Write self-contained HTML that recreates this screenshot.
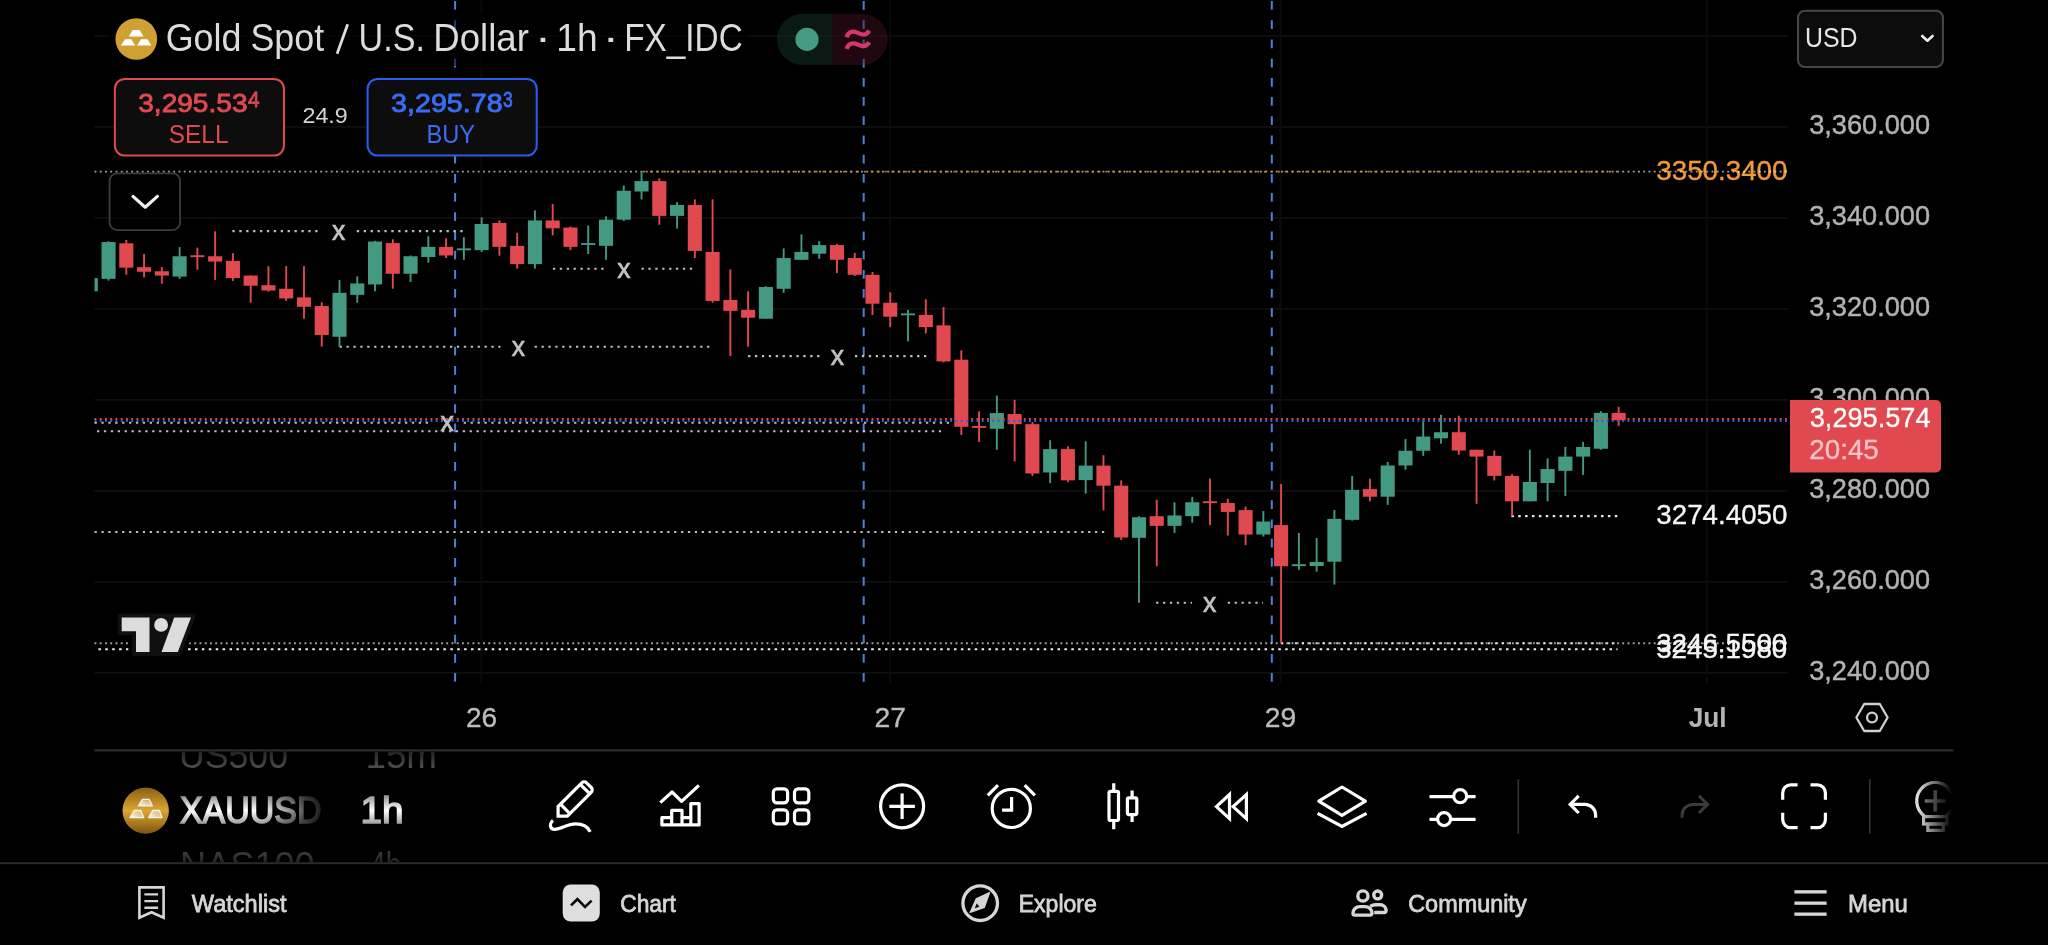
<!DOCTYPE html>
<html lang="en"><head><meta charset="utf-8"><title>Gold Spot / U.S. Dollar chart</title>
<style>html,body{margin:0;padding:0;background:#000;}body{width:2048px;height:945px;overflow:hidden;position:relative;}svg{position:absolute;left:0;top:0;display:block;will-change:transform;}text{font-family:"Liberation Sans",sans-serif;}</style></head>
<body>
<svg width="2048" height="945" viewBox="0 0 2048 945">
<defs>
<linearGradient id="gold2" x1="0" y1="0" x2="0" y2="1"><stop offset="0" stop-color="#8a5e12"/><stop offset="0.5" stop-color="#dba733"/><stop offset="1" stop-color="#7c530f"/></linearGradient>
<linearGradient id="txtg" gradientUnits="userSpaceOnUse" x1="0" y1="795" x2="0" y2="826"><stop offset="0" stop-color="#8e8e8e"/><stop offset="0.5" stop-color="#ffffff"/><stop offset="1" stop-color="#8e8e8e"/></linearGradient>
<linearGradient id="fadeR" gradientUnits="userSpaceOnUse" x1="262" y1="0" x2="322" y2="0"><stop offset="0" stop-color="#fff"/><stop offset="1" stop-color="#1a1a1a"/></linearGradient>
<mask id="mX" maskUnits="userSpaceOnUse" x="170" y="780" width="170" height="60"><rect x="170" y="780" width="170" height="60" fill="url(#fadeR)"/></mask>
<linearGradient id="fadeB" gradientUnits="userSpaceOnUse" x1="1918" y1="0" x2="1952" y2="0"><stop offset="0" stop-color="#fff"/><stop offset="1" stop-color="#000"/></linearGradient>
<mask id="mB" maskUnits="userSpaceOnUse" x="1900" y="770" width="70" height="80"><rect x="1900" y="770" width="70" height="80" fill="url(#fadeB)"/></mask>
<linearGradient id="usg" gradientUnits="userSpaceOnUse" x1="0" y1="751" x2="0" y2="770"><stop offset="0" stop-color="#222222"/><stop offset="1" stop-color="#525252"/></linearGradient>
<linearGradient id="nasg" gradientUnits="userSpaceOnUse" x1="0" y1="850" x2="0" y2="863"><stop offset="0" stop-color="#404040"/><stop offset="1" stop-color="#222222"/></linearGradient>
<clipPath id="cpTop"><rect x="94" y="751.5" width="420" height="30"/></clipPath>
<clipPath id="cpBot"><rect x="94" y="840" width="420" height="22.6"/></clipPath>
<linearGradient id="barg" x1="0" y1="1" x2="1" y2="0"><stop offset="0" stop-color="#fff" stop-opacity="0.95"/><stop offset="1" stop-color="#fff" stop-opacity="0.15"/></linearGradient>
</defs>
<g id="grid"><rect x="94.5" y="35.25" width="1693.5" height="1.5" fill="#121212"/><rect x="94.5" y="126.21" width="1693.5" height="1.5" fill="#121212"/><rect x="94.5" y="217.18" width="1693.5" height="1.5" fill="#121212"/><rect x="94.5" y="308.15" width="1693.5" height="1.5" fill="#121212"/><rect x="94.5" y="399.12" width="1693.5" height="1.5" fill="#121212"/><rect x="94.5" y="490.09" width="1693.5" height="1.5" fill="#121212"/><rect x="94.5" y="581.06" width="1693.5" height="1.5" fill="#121212"/><rect x="94.5" y="672.03" width="1693.5" height="1.5" fill="#121212"/><rect x="480.45" y="0" width="1.7" height="683.5" fill="#0c0c0c"/><rect x="889.25" y="0" width="1.7" height="683.5" fill="#0c0c0c"/><rect x="1279.65" y="0" width="1.7" height="683.5" fill="#0c0c0c"/><rect x="1705.90" y="0" width="1.7" height="683.5" fill="#0c0c0c"/></g>
<line x1="455.1" y1="1.1" x2="455.1" y2="682.8" stroke="#4d80da" stroke-width="2" stroke-dasharray="8.75 10.45"/>
<line x1="863.7" y1="1.1" x2="863.7" y2="682.8" stroke="#4d80da" stroke-width="2" stroke-dasharray="8.75 10.45"/>
<line x1="1271.8" y1="1.1" x2="1271.8" y2="682.8" stroke="#4d80da" stroke-width="2" stroke-dasharray="8.75 10.45"/>
<g id="dots"><line x1="94.5" y1="171.6" x2="1658.9" y2="171.6" stroke="#ffffff" stroke-opacity="0.62" stroke-width="1.9" stroke-dasharray="1.9 3.35"/><line x1="643" y1="171.6" x2="1617" y2="171.6" stroke="#f7931a" stroke-opacity="0.82" stroke-width="1.8" stroke-dasharray="2.1 4.8"/><line x1="232.4" y1="231.1" x2="318.5" y2="231.1" stroke="#ffffff" stroke-opacity="0.74" stroke-width="2.05" stroke-dasharray="2.3 4.60"/><line x1="356.8" y1="231.1" x2="464" y2="231.1" stroke="#ffffff" stroke-opacity="0.74" stroke-width="2.05" stroke-dasharray="2.3 4.60"/><line x1="552.9" y1="268.7" x2="604.5" y2="268.7" stroke="#ffffff" stroke-opacity="0.74" stroke-width="2.05" stroke-dasharray="2.3 4.60"/><line x1="641.5" y1="268.7" x2="693.5" y2="268.7" stroke="#ffffff" stroke-opacity="0.74" stroke-width="2.05" stroke-dasharray="2.3 4.60"/><line x1="339.6" y1="346.7" x2="500.5" y2="346.7" stroke="#ffffff" stroke-opacity="0.74" stroke-width="2.05" stroke-dasharray="2.3 4.60"/><line x1="534.6" y1="346.7" x2="710" y2="346.7" stroke="#ffffff" stroke-opacity="0.74" stroke-width="2.05" stroke-dasharray="2.3 4.60"/><line x1="748.1" y1="356.1" x2="819.5" y2="356.1" stroke="#ffffff" stroke-opacity="0.74" stroke-width="2.05" stroke-dasharray="2.3 4.60"/><line x1="855" y1="356.1" x2="927" y2="356.1" stroke="#ffffff" stroke-opacity="0.74" stroke-width="2.05" stroke-dasharray="2.3 4.60"/><line x1="1156.1" y1="602.8" x2="1192" y2="602.8" stroke="#ffffff" stroke-opacity="0.74" stroke-width="2.05" stroke-dasharray="2.3 4.60"/><line x1="1227.7" y1="602.8" x2="1263" y2="602.8" stroke="#ffffff" stroke-opacity="0.74" stroke-width="2.05" stroke-dasharray="2.3 4.60"/><line x1="94.5" y1="422.8" x2="429" y2="422.8" stroke="#ffffff" stroke-opacity="0.74" stroke-width="2.05" stroke-dasharray="2.3 4.60"/><line x1="463.7" y1="422.8" x2="950" y2="422.8" stroke="#ffffff" stroke-opacity="0.74" stroke-width="2.05" stroke-dasharray="2.3 4.60"/><line x1="97" y1="431.25" x2="943" y2="431.25" stroke="#ffffff" stroke-opacity="0.74" stroke-width="2.05" stroke-dasharray="2.3 4.60"/><line x1="94.5" y1="532" x2="1104.3" y2="532" stroke="#ffffff" stroke-opacity="0.74" stroke-width="2.05" stroke-dasharray="2.3 4.60"/><line x1="1511.3" y1="516.1" x2="1617.5" y2="516.1" stroke="#ffffff" stroke-opacity="0.9" stroke-width="2.2" stroke-dasharray="2.5 4.40"/><line x1="94.5" y1="643.2" x2="1658.9" y2="643.2" stroke="#ffffff" stroke-opacity="0.62" stroke-width="1.9" stroke-dasharray="1.9 3.35"/><line x1="1281" y1="643.2" x2="1617.5" y2="643.2" stroke="#ffffff" stroke-opacity="0.8" stroke-width="2" stroke-dasharray="2.3 4.60"/><line x1="98.4" y1="649.2" x2="1617.5" y2="649.2" stroke="#ffffff" stroke-opacity="0.95" stroke-width="2.15" stroke-dasharray="2.5 4.40"/></g>
<g id="candles"><rect x="94.50" y="278.10" width="3.33" height="13.21" fill="#439982"/><rect x="107.60" y="241.27" width="1.9" height="39.37" fill="#439982"/><rect x="101.50" y="242.03" width="14.10" height="36.83" fill="#439982"/><rect x="125.37" y="240.00" width="1.9" height="34.79" fill="#e04950"/><rect x="119.27" y="243.30" width="14.10" height="24.38" fill="#e04950"/><rect x="143.13" y="253.97" width="1.9" height="23.37" fill="#e04950"/><rect x="137.03" y="267.17" width="14.10" height="4.57" fill="#e04950"/><rect x="160.90" y="267.17" width="1.9" height="16.51" fill="#e04950"/><rect x="154.80" y="271.24" width="14.10" height="4.32" fill="#e04950"/><rect x="178.66" y="247.11" width="1.9" height="31.75" fill="#439982"/><rect x="172.56" y="256.25" width="14.10" height="20.32" fill="#439982"/><rect x="196.43" y="247.62" width="1.9" height="22.10" fill="#e04950"/><rect x="190.33" y="255.24" width="14.10" height="1.90" fill="#e04950"/><rect x="214.20" y="231.37" width="1.9" height="48.51" fill="#e04950"/><rect x="208.10" y="256.25" width="14.10" height="5.33" fill="#e04950"/><rect x="231.96" y="253.21" width="1.9" height="27.68" fill="#e04950"/><rect x="225.86" y="260.83" width="14.10" height="17.27" fill="#e04950"/><rect x="249.73" y="275.56" width="1.9" height="27.17" fill="#e04950"/><rect x="243.63" y="275.56" width="14.10" height="10.16" fill="#e04950"/><rect x="267.49" y="266.16" width="1.9" height="25.40" fill="#e04950"/><rect x="261.39" y="285.21" width="14.10" height="5.33" fill="#e04950"/><rect x="285.26" y="266.16" width="1.9" height="34.79" fill="#e04950"/><rect x="279.16" y="288.76" width="14.10" height="9.65" fill="#e04950"/><rect x="303.03" y="266.16" width="1.9" height="52.57" fill="#e04950"/><rect x="296.93" y="297.40" width="14.10" height="9.40" fill="#e04950"/><rect x="320.79" y="302.22" width="1.9" height="44.44" fill="#e04950"/><rect x="314.69" y="306.03" width="14.10" height="28.95" fill="#e04950"/><rect x="338.56" y="280.13" width="1.9" height="66.54" fill="#439982"/><rect x="332.46" y="292.83" width="14.10" height="43.94" fill="#439982"/><rect x="356.32" y="276.32" width="1.9" height="26.41" fill="#439982"/><rect x="350.22" y="283.43" width="14.10" height="11.43" fill="#439982"/><rect x="374.09" y="240.76" width="1.9" height="50.54" fill="#439982"/><rect x="367.99" y="241.52" width="14.10" height="42.92" fill="#439982"/><rect x="391.86" y="239.24" width="1.9" height="49.52" fill="#e04950"/><rect x="385.76" y="243.05" width="14.10" height="30.73" fill="#e04950"/><rect x="409.62" y="255.49" width="1.9" height="26.41" fill="#439982"/><rect x="403.52" y="256.25" width="14.10" height="17.52" fill="#439982"/><rect x="427.39" y="236.19" width="1.9" height="26.41" fill="#439982"/><rect x="421.29" y="246.86" width="14.10" height="10.16" fill="#439982"/><rect x="445.15" y="238.22" width="1.9" height="19.81" fill="#e04950"/><rect x="439.05" y="246.86" width="14.10" height="8.63" fill="#e04950"/><rect x="462.92" y="237.21" width="1.9" height="22.60" fill="#439982"/><rect x="456.82" y="248.38" width="14.10" height="1.90" fill="#439982"/><rect x="480.69" y="217.40" width="1.9" height="34.54" fill="#439982"/><rect x="474.59" y="224.00" width="14.10" height="26.16" fill="#439982"/><rect x="498.45" y="220.44" width="1.9" height="35.30" fill="#e04950"/><rect x="492.35" y="222.98" width="14.10" height="23.87" fill="#e04950"/><rect x="516.22" y="232.89" width="1.9" height="35.81" fill="#e04950"/><rect x="510.12" y="245.84" width="14.10" height="18.29" fill="#e04950"/><rect x="533.98" y="210.29" width="1.9" height="58.41" fill="#439982"/><rect x="527.88" y="220.44" width="14.10" height="43.68" fill="#439982"/><rect x="551.75" y="203.94" width="1.9" height="31.49" fill="#e04950"/><rect x="545.65" y="220.44" width="14.10" height="7.87" fill="#e04950"/><rect x="569.52" y="226.54" width="1.9" height="23.62" fill="#e04950"/><rect x="563.42" y="227.56" width="14.10" height="19.30" fill="#e04950"/><rect x="587.28" y="225.52" width="1.9" height="28.44" fill="#439982"/><rect x="581.18" y="243.05" width="14.10" height="1.90" fill="#439982"/><rect x="605.05" y="216.38" width="1.9" height="43.43" fill="#439982"/><rect x="598.95" y="219.68" width="14.10" height="26.16" fill="#439982"/><rect x="622.81" y="185.40" width="1.9" height="35.56" fill="#439982"/><rect x="616.71" y="190.73" width="14.10" height="28.95" fill="#439982"/><rect x="640.58" y="171.43" width="1.9" height="27.94" fill="#439982"/><rect x="634.48" y="181.08" width="14.10" height="10.41" fill="#439982"/><rect x="658.35" y="178.29" width="1.9" height="46.48" fill="#e04950"/><rect x="652.25" y="181.08" width="14.10" height="34.79" fill="#e04950"/><rect x="676.11" y="202.16" width="1.9" height="26.41" fill="#439982"/><rect x="670.01" y="204.95" width="14.10" height="10.92" fill="#439982"/><rect x="693.88" y="199.37" width="1.9" height="58.67" fill="#e04950"/><rect x="687.78" y="204.95" width="14.10" height="45.97" fill="#e04950"/><rect x="711.64" y="199.37" width="1.9" height="103.37" fill="#e04950"/><rect x="705.54" y="251.94" width="14.10" height="49.02" fill="#e04950"/><rect x="729.41" y="269.46" width="1.9" height="86.60" fill="#e04950"/><rect x="723.31" y="299.94" width="14.10" height="10.92" fill="#e04950"/><rect x="747.18" y="291.30" width="1.9" height="55.37" fill="#e04950"/><rect x="741.08" y="309.84" width="14.10" height="7.87" fill="#e04950"/><rect x="764.94" y="286.22" width="1.9" height="32.51" fill="#439982"/><rect x="758.84" y="286.98" width="14.10" height="31.75" fill="#439982"/><rect x="782.71" y="248.38" width="1.9" height="44.44" fill="#439982"/><rect x="776.61" y="258.03" width="14.10" height="30.73" fill="#439982"/><rect x="800.47" y="234.41" width="1.9" height="25.40" fill="#439982"/><rect x="794.37" y="251.94" width="14.10" height="7.87" fill="#439982"/><rect x="818.24" y="241.27" width="1.9" height="17.52" fill="#439982"/><rect x="812.14" y="245.08" width="14.10" height="8.63" fill="#439982"/><rect x="836.01" y="244.06" width="1.9" height="28.95" fill="#e04950"/><rect x="829.91" y="245.08" width="14.10" height="14.73" fill="#e04950"/><rect x="853.77" y="252.95" width="1.9" height="23.11" fill="#e04950"/><rect x="847.67" y="258.03" width="14.10" height="16.76" fill="#e04950"/><rect x="871.54" y="272.00" width="1.9" height="42.92" fill="#e04950"/><rect x="865.44" y="274.79" width="14.10" height="28.95" fill="#e04950"/><rect x="889.30" y="292.32" width="1.9" height="34.79" fill="#e04950"/><rect x="883.20" y="302.73" width="14.10" height="13.97" fill="#e04950"/><rect x="907.07" y="309.84" width="1.9" height="31.49" fill="#439982"/><rect x="900.97" y="313.40" width="14.10" height="1.90" fill="#439982"/><rect x="924.84" y="299.17" width="1.9" height="34.29" fill="#e04950"/><rect x="918.74" y="314.92" width="14.10" height="12.19" fill="#e04950"/><rect x="942.60" y="307.05" width="1.9" height="55.37" fill="#e04950"/><rect x="936.50" y="325.33" width="14.10" height="36.06" fill="#e04950"/><rect x="960.37" y="350.32" width="1.9" height="84.57" fill="#e04950"/><rect x="954.27" y="359.71" width="14.10" height="67.05" fill="#e04950"/><rect x="978.13" y="411.27" width="1.9" height="30.73" fill="#e04950"/><rect x="972.03" y="426.00" width="14.10" height="1.90" fill="#e04950"/><rect x="995.90" y="395.52" width="1.9" height="54.35" fill="#439982"/><rect x="989.80" y="413.05" width="14.10" height="15.75" fill="#439982"/><rect x="1013.67" y="399.84" width="1.9" height="61.46" fill="#e04950"/><rect x="1007.57" y="414.06" width="14.10" height="10.16" fill="#e04950"/><rect x="1031.43" y="421.94" width="1.9" height="54.10" fill="#e04950"/><rect x="1025.33" y="424.22" width="14.10" height="49.27" fill="#e04950"/><rect x="1049.20" y="440.22" width="1.9" height="42.92" fill="#439982"/><rect x="1043.10" y="449.11" width="14.10" height="23.37" fill="#439982"/><rect x="1066.96" y="446.32" width="1.9" height="35.81" fill="#e04950"/><rect x="1060.86" y="449.11" width="14.10" height="31.24" fill="#e04950"/><rect x="1084.73" y="441.24" width="1.9" height="52.32" fill="#439982"/><rect x="1078.63" y="465.62" width="14.10" height="14.48" fill="#439982"/><rect x="1102.50" y="455.21" width="1.9" height="55.11" fill="#e04950"/><rect x="1096.40" y="465.62" width="14.10" height="20.06" fill="#e04950"/><rect x="1120.26" y="480.35" width="1.9" height="59.68" fill="#e04950"/><rect x="1114.16" y="485.68" width="14.10" height="51.81" fill="#e04950"/><rect x="1138.03" y="516.22" width="1.9" height="86.60" fill="#439982"/><rect x="1131.93" y="517.24" width="14.10" height="20.57" fill="#439982"/><rect x="1155.79" y="499.71" width="1.9" height="66.54" fill="#e04950"/><rect x="1149.69" y="516.22" width="14.10" height="9.65" fill="#e04950"/><rect x="1173.56" y="502.25" width="1.9" height="30.73" fill="#439982"/><rect x="1167.46" y="515.46" width="14.10" height="10.41" fill="#439982"/><rect x="1191.33" y="496.92" width="1.9" height="25.65" fill="#439982"/><rect x="1185.23" y="502.25" width="14.10" height="13.97" fill="#439982"/><rect x="1209.09" y="478.63" width="1.9" height="46.48" fill="#e04950"/><rect x="1202.99" y="501.24" width="14.10" height="1.90" fill="#e04950"/><rect x="1226.86" y="498.70" width="1.9" height="36.83" fill="#e04950"/><rect x="1220.76" y="503.02" width="14.10" height="8.89" fill="#e04950"/><rect x="1244.62" y="506.57" width="1.9" height="38.60" fill="#e04950"/><rect x="1238.52" y="510.13" width="14.10" height="24.38" fill="#e04950"/><rect x="1262.39" y="511.14" width="1.9" height="25.40" fill="#439982"/><rect x="1256.29" y="521.56" width="14.10" height="12.95" fill="#439982"/><rect x="1280.16" y="483.97" width="1.9" height="159.49" fill="#e04950"/><rect x="1274.06" y="525.11" width="14.10" height="41.14" fill="#e04950"/><rect x="1297.92" y="532.98" width="1.9" height="36.83" fill="#439982"/><rect x="1291.82" y="564.22" width="14.10" height="1.90" fill="#439982"/><rect x="1315.69" y="538.06" width="1.9" height="33.52" fill="#439982"/><rect x="1309.59" y="561.94" width="14.10" height="4.06" fill="#439982"/><rect x="1333.45" y="509.94" width="1.9" height="74.67" fill="#439982"/><rect x="1327.35" y="518.83" width="14.10" height="42.92" fill="#439982"/><rect x="1351.22" y="475.90" width="1.9" height="44.70" fill="#439982"/><rect x="1345.12" y="489.87" width="14.10" height="29.97" fill="#439982"/><rect x="1368.99" y="478.70" width="1.9" height="22.60" fill="#e04950"/><rect x="1362.89" y="489.11" width="14.10" height="7.62" fill="#e04950"/><rect x="1386.75" y="461.94" width="1.9" height="42.92" fill="#439982"/><rect x="1380.65" y="465.49" width="14.10" height="31.24" fill="#439982"/><rect x="1404.52" y="439.08" width="1.9" height="30.73" fill="#439982"/><rect x="1398.42" y="450.76" width="14.10" height="14.73" fill="#439982"/><rect x="1422.28" y="419.78" width="1.9" height="36.06" fill="#439982"/><rect x="1416.18" y="436.54" width="14.10" height="14.22" fill="#439982"/><rect x="1440.05" y="414.70" width="1.9" height="28.95" fill="#439982"/><rect x="1433.95" y="432.22" width="14.10" height="6.10" fill="#439982"/><rect x="1457.82" y="415.71" width="1.9" height="39.11" fill="#e04950"/><rect x="1451.72" y="432.22" width="14.10" height="18.29" fill="#e04950"/><rect x="1475.58" y="449.75" width="1.9" height="54.10" fill="#e04950"/><rect x="1469.48" y="449.75" width="14.10" height="6.86" fill="#e04950"/><rect x="1493.35" y="450.51" width="1.9" height="29.97" fill="#e04950"/><rect x="1487.25" y="455.84" width="14.10" height="20.06" fill="#e04950"/><rect x="1511.11" y="474.13" width="1.9" height="41.90" fill="#e04950"/><rect x="1505.01" y="475.90" width="14.10" height="25.40" fill="#e04950"/><rect x="1528.88" y="449.75" width="1.9" height="51.56" fill="#439982"/><rect x="1522.78" y="482.00" width="14.10" height="19.30" fill="#439982"/><rect x="1546.65" y="458.38" width="1.9" height="42.92" fill="#439982"/><rect x="1540.55" y="469.05" width="14.10" height="13.97" fill="#439982"/><rect x="1564.41" y="446.95" width="1.9" height="49.02" fill="#439982"/><rect x="1558.31" y="456.60" width="14.10" height="14.22" fill="#439982"/><rect x="1582.18" y="441.87" width="1.9" height="33.02" fill="#439982"/><rect x="1576.08" y="446.95" width="14.10" height="9.65" fill="#439982"/><rect x="1599.94" y="411.14" width="1.9" height="38.60" fill="#439982"/><rect x="1593.84" y="412.92" width="14.10" height="35.81" fill="#439982"/><rect x="1617.71" y="406.83" width="1.9" height="19.05" fill="#e04950"/><rect x="1611.61" y="412.92" width="14.10" height="7.37" fill="#e04950"/></g>
<line x1="94.5" y1="419" x2="1788" y2="419" stroke="#e04950" stroke-width="2" stroke-dasharray="1.9 3.35"/>
<line x1="94.5" y1="420.9" x2="1788" y2="420.9" stroke="#2a5cf0" stroke-width="2" stroke-dasharray="1.9 3.35"/>
<g stroke="#000" stroke-width="15" stroke-linejoin="round" fill="#000"><path d="M121.7 617.6H149.5V652H136V631.3H121.7Z"/><circle cx="161.1" cy="624.9" r="6.9"/><path d="M174.2 617.6H191L177.8 652H161.5Z"/></g>
<g stroke="#101010" stroke-width="7.6" stroke-linejoin="miter" fill="#101010"><path d="M121.7 617.6H149.5V652H136V631.3H121.7Z"/><circle cx="161.1" cy="624.9" r="6.9"/><path d="M174.2 617.6H191L177.8 652H161.5Z"/><path d="M148 617.6H176L162 652H148Z"/></g>
<g fill="#dcdcdc"><path d="M121.7 617.6H149.5V652H136V631.3H121.7Z"/><circle cx="161.1" cy="624.9" r="6.9"/><path d="M174.2 617.6H191L177.8 652H161.5Z"/></g>
<text x="332.03" y="240.15" font-size="28.5" textLength="13.33" lengthAdjust="spacingAndGlyphs" fill="#c2c2c2" font-weight="normal" stroke="#c2c2c2" stroke-width="0.7">x</text>
<text x="617.33" y="277.90" font-size="28.5" textLength="13.33" lengthAdjust="spacingAndGlyphs" fill="#c2c2c2" font-weight="normal" stroke="#c2c2c2" stroke-width="0.7">x</text>
<text x="511.78" y="355.90" font-size="28.5" textLength="13.33" lengthAdjust="spacingAndGlyphs" fill="#c2c2c2" font-weight="normal" stroke="#c2c2c2" stroke-width="0.7">x</text>
<text x="830.73" y="365.30" font-size="28.5" textLength="13.33" lengthAdjust="spacingAndGlyphs" fill="#c2c2c2" font-weight="normal" stroke="#c2c2c2" stroke-width="0.7">x</text>
<text x="440.53" y="430.80" font-size="28.5" textLength="13.33" lengthAdjust="spacingAndGlyphs" fill="#c2c2c2" font-weight="normal" stroke="#c2c2c2" stroke-width="0.7">x</text>
<text x="1202.93" y="612.00" font-size="28.5" textLength="13.33" lengthAdjust="spacingAndGlyphs" fill="#c2c2c2" font-weight="normal" stroke="#c2c2c2" stroke-width="0.7">x</text>
<rect x="108" y="12" width="642" height="54" rx="6" fill="#000" fill-opacity="0.55"/>
<circle cx="136.3" cy="39" r="20.85" fill="#d1a035"/>
<g fill="#fff"><path d="M132.7 30H139.6L143.5 36.6H128.8Z"/><path d="M125.1 39.3H131.25L135.2 45.6H120.8Z"/><path d="M141 39.3H147.4L151.3 45.6H137.1Z"/></g>
<text x="165.71" y="50.90" font-size="38" textLength="75.70" lengthAdjust="spacingAndGlyphs" fill="#dcdcdc" font-weight="normal" >Gold</text>
<text x="250.47" y="50.90" font-size="38" textLength="73.65" lengthAdjust="spacingAndGlyphs" fill="#dcdcdc" font-weight="normal" >Spot</text>
<text x="358.51" y="50.90" font-size="38" textLength="66.39" lengthAdjust="spacingAndGlyphs" fill="#dcdcdc" font-weight="normal" >U.S.</text>
<text x="433.32" y="50.90" font-size="38" textLength="95.55" lengthAdjust="spacingAndGlyphs" fill="#dcdcdc" font-weight="normal" >Dollar</text>
<text x="534.80" y="50.90" font-size="38" textLength="16.35" lengthAdjust="spacingAndGlyphs" fill="#dcdcdc" font-weight="normal" >·</text>
<text x="556.29" y="50.90" font-size="38" textLength="41.39" lengthAdjust="spacingAndGlyphs" fill="#dcdcdc" font-weight="normal" >1h</text>
<text x="602.60" y="50.90" font-size="38" textLength="16.65" lengthAdjust="spacingAndGlyphs" fill="#dcdcdc" font-weight="normal" >·</text>
<text x="624.23" y="50.90" font-size="38" textLength="118.54" lengthAdjust="spacingAndGlyphs" fill="#dcdcdc" font-weight="normal" >FX_IDC</text>
<path d="M347.7 24.3L337.1 53.7" stroke="#dcdcdc" stroke-width="2.8" fill="none"/>
<rect x="777" y="13.75" width="110.7" height="51.25" rx="25.6" fill="#000" fill-opacity="0.35"/>
<path d="M802.6 13.75H832.3V65H802.6A25.6 25.6 0 0 1 802.6 13.75Z" fill="#439982" fill-opacity="0.16"/>
<path d="M832.3 13.75H862.1A25.6 25.6 0 0 1 862.1 65H832.3Z" fill="#d6336c" fill-opacity="0.15"/>
<circle cx="807" cy="39.4" r="11.6" fill="#469982"/>
<g fill="none" stroke="#d4386b" stroke-width="4.3" stroke-linecap="butt"><path d="M846.6 37.2C848.5 31.5 853 30.8 857 32.6C861.5 34.7 866 36.3 869.2 30.6"/><path d="M846.6 48.9C848.5 43.2 853 42.5 857 44.3C861.5 46.4 866 48 869.2 42.3"/></g>
<rect x="114.85" y="78.9" width="169.1" height="76.7" rx="10" fill="#0d0d0d" stroke="#e04950" stroke-width="2"/>
<rect x="367.6" y="78.9" width="169.1" height="76.7" rx="10" fill="#0d0d0d" stroke="#2b5cf0" stroke-width="2"/>
<text x="138.26" y="111.90" font-size="26.3" textLength="109.26" lengthAdjust="spacingAndGlyphs" fill="#e04950" font-weight="normal" stroke="#e04950" stroke-width="0.9">3,295.53</text>
<text x="247.98" y="107.20" font-size="22.8" textLength="11.56" lengthAdjust="spacingAndGlyphs" fill="#e04950" font-weight="normal" stroke="#e04950" stroke-width="0.8">4</text>
<text x="168.83" y="143.00" font-size="26.5" textLength="59.61" lengthAdjust="spacingAndGlyphs" fill="#e04950" font-weight="normal" >SELL</text>
<text x="302.44" y="123.00" font-size="21.3" textLength="45.34" lengthAdjust="spacingAndGlyphs" fill="#d4d4d4" font-weight="normal" >24.9</text>
<text x="391.14" y="111.90" font-size="26.3" textLength="111.49" lengthAdjust="spacingAndGlyphs" fill="#3a6cf4" font-weight="normal" stroke="#3a6cf4" stroke-width="0.9">3,295.78</text>
<text x="503.07" y="107.20" font-size="22.8" textLength="9.76" lengthAdjust="spacingAndGlyphs" fill="#3a6cf4" font-weight="normal" stroke="#3a6cf4" stroke-width="0.8">3</text>
<text x="426.51" y="143.00" font-size="26.5" textLength="48.59" lengthAdjust="spacingAndGlyphs" fill="#3a6cf4" font-weight="normal" >BUY</text>
<rect x="109.6" y="173.4" width="70.5" height="56.7" rx="7.5" fill="#000" fill-opacity="0.6" stroke="#3c3c3c" stroke-width="1.8"/>
<path d="M133 196.4L145.2 207.2L157.4 196.4" fill="none" stroke="#f0f0f0" stroke-width="3.2" stroke-linecap="round" stroke-linejoin="round"/>
<rect x="1798" y="10.7" width="144.9" height="56.4" rx="7" fill="#0c0c0c" stroke="#484848" stroke-width="2"/>
<text x="1805.06" y="47.00" font-size="27.5" textLength="52.49" lengthAdjust="spacingAndGlyphs" fill="#e6e6e6" font-weight="normal" >USD</text>
<path d="M1922.2 36L1927.4 40.7L1932.6 36" fill="none" stroke="#ececec" stroke-width="2.6" stroke-linecap="round" stroke-linejoin="round"/>
<text x="1809.19" y="134.06" font-size="27.3" textLength="120.80" lengthAdjust="spacingAndGlyphs" fill="#b2b2b2" font-weight="normal" stroke="#b2b2b2" stroke-width="0.45">3,360.000</text>
<text x="1809.19" y="225.03" font-size="27.3" textLength="120.80" lengthAdjust="spacingAndGlyphs" fill="#b2b2b2" font-weight="normal" stroke="#b2b2b2" stroke-width="0.45">3,340.000</text>
<text x="1809.19" y="316.00" font-size="27.3" textLength="120.80" lengthAdjust="spacingAndGlyphs" fill="#b2b2b2" font-weight="normal" stroke="#b2b2b2" stroke-width="0.45">3,320.000</text>
<text x="1809.19" y="406.97" font-size="27.3" textLength="120.80" lengthAdjust="spacingAndGlyphs" fill="#b2b2b2" font-weight="normal" stroke="#b2b2b2" stroke-width="0.45">3,300.000</text>
<text x="1809.19" y="497.94" font-size="27.3" textLength="120.80" lengthAdjust="spacingAndGlyphs" fill="#b2b2b2" font-weight="normal" stroke="#b2b2b2" stroke-width="0.45">3,280.000</text>
<text x="1809.19" y="588.91" font-size="27.3" textLength="120.80" lengthAdjust="spacingAndGlyphs" fill="#b2b2b2" font-weight="normal" stroke="#b2b2b2" stroke-width="0.45">3,260.000</text>
<text x="1809.19" y="679.88" font-size="27.3" textLength="120.80" lengthAdjust="spacingAndGlyphs" fill="#b2b2b2" font-weight="normal" stroke="#b2b2b2" stroke-width="0.45">3,240.000</text>
<text x="1656.37" y="180.30" font-size="27.3" textLength="131.03" lengthAdjust="spacingAndGlyphs" fill="#f29a37" font-weight="normal" stroke="#f29a37" stroke-width="0.35">3350.3400</text>
<text x="1656.37" y="524.30" font-size="27.3" textLength="131.03" lengthAdjust="spacingAndGlyphs" fill="#f4f4f4" font-weight="normal" stroke="#f4f4f4" stroke-width="0.35">3274.4050</text>
<text x="1656.17" y="652.40" font-size="26.6" textLength="131.14" lengthAdjust="spacingAndGlyphs" fill="#f4f4f4" font-weight="normal" stroke="#f4f4f4" stroke-width="0.35">3246.5500</text>
<text x="1656.17" y="657.80" font-size="26.6" textLength="131.14" lengthAdjust="spacingAndGlyphs" fill="#f4f4f4" font-weight="normal" stroke="#f4f4f4" stroke-width="0.35">3245.1980</text>
<line x1="1659" y1="171.6" x2="1788" y2="171.6" stroke="#ffffff" stroke-opacity="0.62" stroke-width="1.9" stroke-dasharray="1.9 3.35"/>
<line x1="1659" y1="643.2" x2="1788" y2="643.2" stroke="#ffffff" stroke-opacity="0.62" stroke-width="1.9" stroke-dasharray="1.9 3.35"/>
<path d="M1790 400H1936A5 5 0 0 1 1941 405V467.5A5 5 0 0 1 1936 472.5H1790Z" fill="#e0494f"/>
<text x="1809.79" y="427.00" font-size="27.3" textLength="120.72" lengthAdjust="spacingAndGlyphs" fill="#ffffff" font-weight="normal" stroke="#ffffff" stroke-width="0.3">3,295.574</text>
<text x="1809.31" y="459.10" font-size="27.2" textLength="69.49" lengthAdjust="spacingAndGlyphs" fill="#f6c3c5" font-weight="normal" stroke="#f6c3c5" stroke-width="0.3">20:45</text>
<text x="465.90" y="727.20" font-size="27.6" textLength="31.11" lengthAdjust="spacingAndGlyphs" fill="#bcbcbc" font-weight="normal" stroke="#bcbcbc" stroke-width="0.35">26</text>
<text x="874.48" y="727.20" font-size="27.6" textLength="31.53" lengthAdjust="spacingAndGlyphs" fill="#bcbcbc" font-weight="normal" stroke="#bcbcbc" stroke-width="0.35">27</text>
<text x="1264.89" y="727.20" font-size="27.6" textLength="31.42" lengthAdjust="spacingAndGlyphs" fill="#bcbcbc" font-weight="normal" stroke="#bcbcbc" stroke-width="0.35">29</text>
<text x="1688.64" y="727.00" font-size="27.4" textLength="38.05" lengthAdjust="spacingAndGlyphs" fill="#b4b4b4" font-weight="bold" >Jul</text>
<path d="M1856.4 717.5L1864.2 704H1879.8L1887.6 717.5L1879.8 731H1864.2Z" fill="none" stroke="#d0d0d0" stroke-width="2.3" stroke-linejoin="round"/>
<circle cx="1872" cy="717.5" r="4.9" fill="none" stroke="#d0d0d0" stroke-width="2.3"/>
<rect x="94.5" y="749.4" width="1858.8" height="2" fill="#303030"/>
<rect x="0" y="862.2" width="2048" height="2" fill="#2a2a2a"/>
<g clip-path="url(#cpTop)"><text x="178.90" y="767.50" font-size="36" textLength="109.19" lengthAdjust="spacingAndGlyphs" fill="url(#usg)" font-weight="normal" >US500</text><text x="365.42" y="767.50" font-size="36" textLength="71.60" lengthAdjust="spacingAndGlyphs" fill="url(#usg)" font-weight="normal" >15m</text></g>
<g clip-path="url(#cpBot)"><text x="180.11" y="877.50" font-size="36" textLength="134.60" lengthAdjust="spacingAndGlyphs" fill="url(#nasg)" font-weight="normal" >NAS100</text><text x="370.04" y="877.50" font-size="36" textLength="31.24" lengthAdjust="spacingAndGlyphs" fill="url(#nasg)" font-weight="normal" >4h</text></g>
<circle cx="145.7" cy="810.6" r="23.2" fill="url(#gold2)"/>
<g fill="url(#barg)" stroke="#f4f4f4" stroke-width="1.3" stroke-linejoin="round"><path d="M142.4 799.4H149L152.4 805.8H138.6Z"/><path d="M134.3 810.5H140.7L143.8 817.6H130Z"/><path d="M152.8 810.5H159.3L162 817.6H148.6Z"/></g>
<g mask="url(#mX)"><text x="179.92" y="822.70" font-size="36.2" textLength="141.51" lengthAdjust="spacingAndGlyphs" fill="url(#txtg)" font-weight="normal" stroke="url(#txtg)" stroke-width="1.5">XAUUSD</text></g>
<text x="360.49" y="822.70" font-size="36.2" textLength="43.09" lengthAdjust="spacingAndGlyphs" fill="url(#txtg)" font-weight="normal" stroke="url(#txtg)" stroke-width="1.5">1h</text>
<g fill="none" stroke="#ffffff" stroke-width="3.2" stroke-linecap="butt" stroke-linejoin="miter"><path d="M558.1 816.1V806.5L581.75 782.85A3.4 3.4 0 0 1 586.55 782.85L591.2 787.5A3.4 3.4 0 0 1 591.2 792.3L567.4 816.1Z"/><path d="M560.5 804.2L569.8 813.6"/><path d="M580.3 784.3L589.75 793.75"/><path d="M553 820.4C549.5 823.5 549.3 829.3 554.6 829.3C561.5 829.3 567 823.9 575.5 823.9C583.5 823.9 588.3 827.5 590.2 831.8"/><path d="M660.3 802.6L672.1 792L681.6 801.3L698.9 785.3" stroke-linejoin="round"/><path d="M661.9 824.9V817.6H671.7V810.3H682V817.6H690.8V803.7H699.1V824.9Z" stroke-linejoin="round"/><path d="M671.7 817.6V824.9M682 817.6V824.9M690.8 817.6V824.9"/><rect x="773.3" y="788.8" width="14.3" height="14" rx="3.6"/><rect x="794.5" y="788.8" width="14.3" height="14" rx="3.6"/><rect x="773.3" y="809.8" width="14.3" height="14" rx="3.6"/><rect x="794.5" y="809.8" width="14.3" height="14" rx="3.6"/><circle cx="902.1" cy="806.3" r="21.5"/><path d="M889.3 806.3H914.9M902.1 793.5V819.1"/><circle cx="1011.3" cy="808.4" r="19.1"/><path d="M1011.6 797.1V810.2H1002.1"/><path d="M987.8 795.3L998 785.1M1024.7 785.1L1034.9 795.3"/><rect x="1109" y="791.3" width="9.5" height="29.2" rx="1.5"/><path d="M1113.75 783.2V791.3M1113.75 820.5V829.3"/><rect x="1127.4" y="797.9" width="9.4" height="16.7" rx="1.5"/><path d="M1132.1 790.5V797.9M1132.1 814.6V822"/><path d="M1216.4 806.6L1229.5 794.5V818.7Z" stroke-linejoin="miter"/><path d="M1233 806.6L1246.4 794.5V818.7Z" stroke-linejoin="miter"/><path d="M1342 787L1365.4 801.2L1342 815.4L1318.8 801.2Z" stroke-linejoin="round"/><path d="M1317.6 813.4L1342 826.4L1366.6 813.4"/><path d="M1429.5 796.6H1475.6M1429.5 819.4H1475.6"/><circle cx="1460.2" cy="796.2" r="6.5" fill="#000"/><circle cx="1444.1" cy="819.1" r="6.5" fill="#000"/><path d="M1578.7 795.8L1570.2 804.4L1578.7 813M1570.6 804.4H1585A10.6 10.6 0 0 1 1595.6 815V817.8"/><path d="M1782.7 799.8V792.9A8 8 0 0 1 1790.7 784.9H1797.6M1810.5 784.9H1817.4A8 8 0 0 1 1825.4 792.9V799.8M1825.4 812.7V819.6A8 8 0 0 1 1817.4 827.6H1810.5M1797.6 827.6H1790.7A8 8 0 0 1 1782.7 819.6V812.7"/></g>
<path d="M1699 795.8L1707.5 804.4L1699 813M1707.1 804.4H1692.7A10.6 10.6 0 0 0 1682.1 815V817.8" fill="none" stroke="#3b3b3b" stroke-width="3"/>
<rect x="1517.5" y="779.2" width="1.6" height="54.6" fill="#333"/><rect x="1869" y="779.2" width="1.6" height="54.6" fill="#333"/>
<g mask="url(#mB)" fill="none" stroke="#dcdcdc" stroke-width="3.2"><path d="M1924.5 816A18.5 18.5 0 1 1 1946 816"/><rect x="1923.6" y="816.6" width="23.5" height="7.4"/><rect x="1927.9" y="824" width="15.5" height="6.4"/><path d="M1924.8 801H1945.9M1935.3 790.3V811.5" stroke="#8c8c8c" stroke-width="3.6"/></g>
<g fill="none" stroke="#d6d6d6" stroke-width="2.6" stroke-linejoin="miter"><path d="M139.4 887.4H163.6V917.8L151.5 912.2L139.4 917.8Z"/><path d="M144.4 894.4H158.1M144.4 901.1H158.1M144.4 907.7H158.1" stroke-width="2.4"/></g>
<text x="191.80" y="912.00" font-size="24.4" textLength="94.65" lengthAdjust="spacingAndGlyphs" fill="#d6d6d6" font-weight="normal" stroke="#d6d6d6" stroke-width="0.8">Watchlist</text>
<rect x="562.7" y="884.5" width="37.1" height="37.1" rx="8" fill="#dedede"/>
<path d="M571 905.4L577.4 899.2L585 907L591.6 900.6" fill="none" stroke="#0a0a0a" stroke-width="2.6"/>
<text x="620.16" y="911.80" font-size="24.4" textLength="55.79" lengthAdjust="spacingAndGlyphs" fill="#d6d6d6" font-weight="normal" stroke="#d6d6d6" stroke-width="0.8">Chart</text>
<circle cx="980.2" cy="903.2" r="17.3" fill="none" stroke="#d6d6d6" stroke-width="3.3"/>
<path d="M989.6 892.6L976.2 898.8L970.1 912.4L984.4 907.4Z" fill="#d6d6d6" stroke="#d6d6d6" stroke-width="1.2" stroke-linejoin="round"/><path d="M976.6 903.6L979.4 906.6L974.8 908.6Z" fill="#000"/>
<text x="1018.76" y="911.80" font-size="24.4" textLength="78.07" lengthAdjust="spacingAndGlyphs" fill="#d6d6d6" font-weight="normal" stroke="#d6d6d6" stroke-width="0.8">Explore</text>
<g fill="none" stroke="#d6d6d6" stroke-width="3.4"><circle cx="1362.9" cy="895.95" r="5.1"/><circle cx="1377.7" cy="894.9" r="3.95"/><path d="M1354.8 915.1H1370.2A1.8 1.8 0 0 0 1372 913.3C1372 909.5 1369 906.6 1365 906.6H1360C1356 906.6 1353 909.5 1353 913.3A1.8 1.8 0 0 0 1354.8 915.1Z"/><path d="M1370.3 906.4C1372 905.2 1373.8 904.7 1375.5 904.7H1380C1383.5 904.7 1386.1 907.3 1386.1 910.7A1.8 1.8 0 0 1 1384.3 912.5H1374.2"/></g>
<text x="1408.23" y="911.80" font-size="24.4" textLength="118.37" lengthAdjust="spacingAndGlyphs" fill="#d6d6d6" font-weight="normal" stroke="#d6d6d6" stroke-width="0.8">Community</text>
<g fill="#d6d6d6"><rect x="1794.4" y="890.2" width="32.2" height="3.3"/><rect x="1794.4" y="901.5" width="32.2" height="3.3"/><rect x="1794.4" y="912.5" width="32.2" height="3.3"/></g>
<text x="1848.09" y="911.80" font-size="24.4" textLength="59.79" lengthAdjust="spacingAndGlyphs" fill="#d6d6d6" font-weight="normal" stroke="#d6d6d6" stroke-width="0.8">Menu</text>
</svg>
</body></html>
